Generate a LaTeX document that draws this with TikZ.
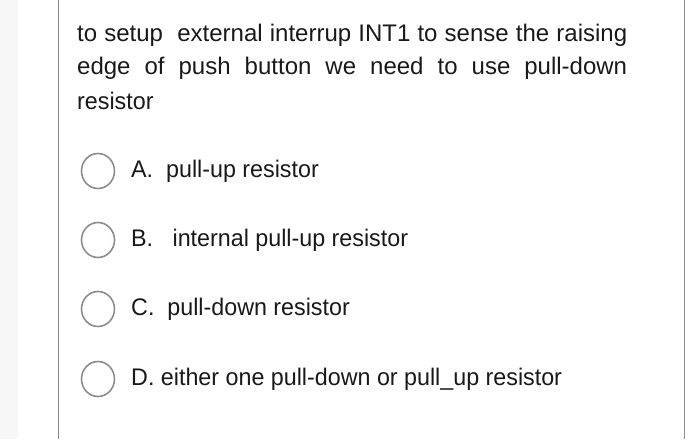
\documentclass[tikz,border=0pt]{standalone}
\usepackage{fontspec}
\setmainfont{Liberation Sans}
\begin{document}
\begin{tikzpicture}[x=1pt,y=1pt,
  txt/.style={anchor=west,inner sep=0pt,font=\fontsize{24}{28}\selectfont,text=black!90}]
\useasboundingbox (0,0) rectangle (700,439);
\fill[black!3] (0,0) rectangle (18,439);
\draw[black!45,line width=1pt] (58,0) -- (58,439);
\draw[black!45,line width=1pt] (684,0) -- (684,439);
\node[txt] (l1) at (77,404) {\makebox[550pt][s]{to setup \ external interrup INT1 to sense the raising}};
\node[txt] (l2) at (77,371) {\makebox[550pt][s]{edge of push button we need to use pull-down}};
\node[txt] (l3) at (77,338) {\scalebox{0.97}[1]{resistor}};
\foreach \n/\y/\t in {a/268/A.\ \ pull-up resistor, b/199/B.\ \ \ internal pull-up resistor, c/130/C.\ \ pull-down resistor, d/60/D.\ either one pull-down or pull\_up resistor}{
  \draw[black!45,line width=1.6pt] (98,\y) ellipse (16.5 and 17.5);
  \node[txt] (o\n) at (131,\y) {\scalebox{0.97}[1]{\t}};
}
\end{tikzpicture}
\end{document}
